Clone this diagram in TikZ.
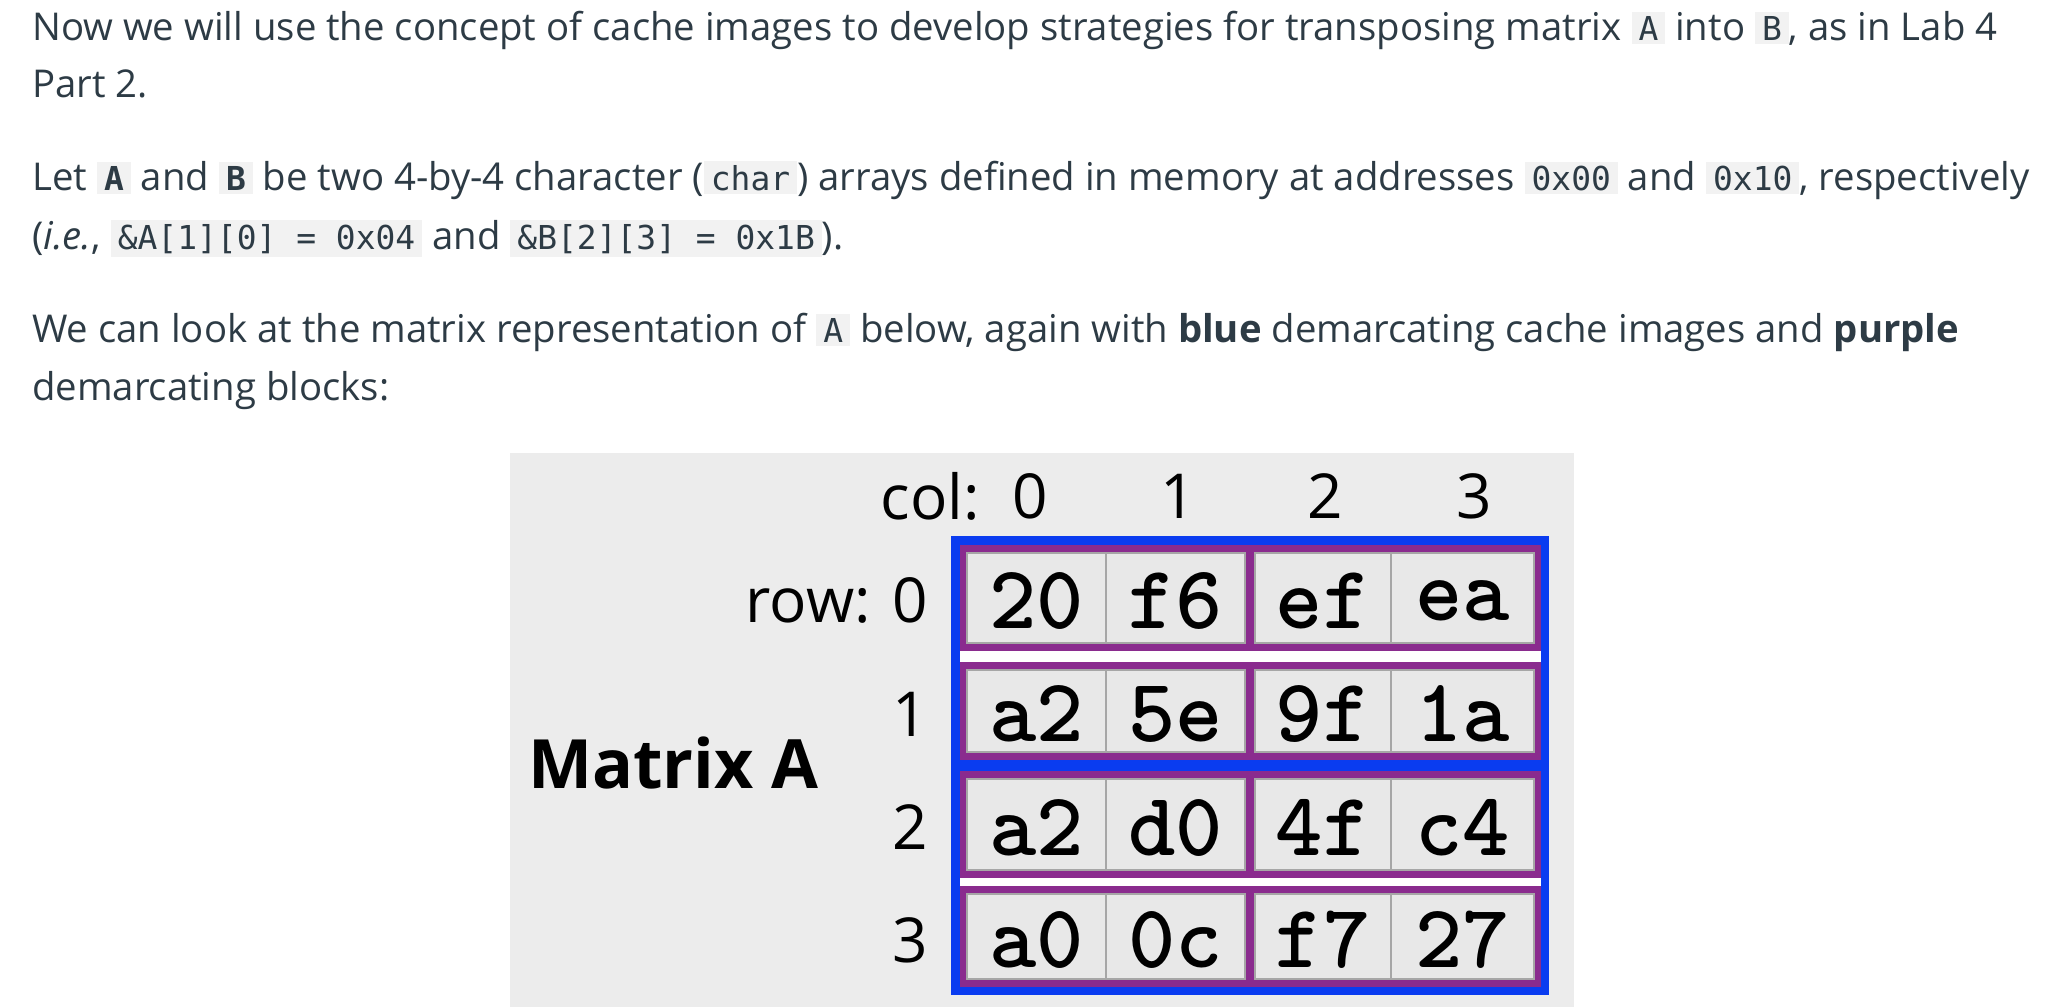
\documentclass[tikz,border=0pt]{standalone}
\usepackage{fontspec}
\setmainfont{Open Sans}
\newfontfamily\codefont{DejaVu Sans Mono}[Scale=0.86]
\definecolor{codebg}{HTML}{F2F2F2}
\definecolor{panel}{HTML}{ECECEC}
\definecolor{cblue}{HTML}{0A3CF0}
\definecolor{cpurple}{HTML}{8A2B8E}
\definecolor{cellbg}{HTML}{E8E8E8}
\definecolor{txt}{HTML}{2D3B45}
\newcommand\cd[1]{{\setlength\fboxsep{4pt}\colorbox{codebg}{\hspace{3pt}\codefont #1\hspace{3pt}}}}
\begin{document}
\begin{tikzpicture}[x=1pt,y=-1pt,
  line/.style={anchor=base west,inner sep=0pt,font=\fontsize{38.3}{44}\selectfont,text=txt},
  lbl/.style={inner sep=0pt,font=\fontsize{62}{70}\selectfont},
  cellbox/.style={fill=cellbg,draw=gray!70,line width=1.5pt},
  celltxt/.style={inner sep=0pt,font=\ttfamily\bfseries\fontsize{90}{92}\selectfont}]
\useasboundingbox (0,0) rectangle (2070,1007);
\fill[white] (0,0) rectangle (2070,1007);
\node[line] (l1) at (32,40) {Now we will use the concept of cache images to develop strategies for transposing matrix \cd{A} into \cd{B}, as in Lab 4};
\node[line] (l2) at (32,97) {Part 2.};
\node[line] (l3) at (32,190) {Let \cd{\bfseries A} and \cd{\bfseries B} be two 4-by-4 character (\cd{char}) arrays defined in memory at addresses \cd{0x00} and \cd{0x10}, respectively};
\node[line] (l4) at (32,249) {(\textit{i.e.}, \cd{\&A[1][0] = 0x04} and \cd{\&B[2][3] = 0x1B}).};
\node[line] (l5) at (32,342) {We can look at the matrix representation of \cd{A} below, again with \textbf{blue} demarcating cache images and \textbf{purple}};
\node[line] (l6) at (32,400) {demarcating blocks:};
\fill[panel] (510,453) rectangle (1574,1007);
\fill[cblue] (951,536) rectangle (1549,995);
\fill[white] (960,545) rectangle (1541,758);
\fill[white] (960,771) rectangle (1541,987);
\def\tops{{545,662,771,886}}
\def\bots{{651,760,878,987}}
\foreach \r/\a/\b/\c/\d in {0/20/f6/ef/ea,1/a2/5e/9f/1a,2/a2/d0/4f/c4,3/a0/0c/f7/27}{
  \pgfmathsetmacro\t{\tops[\r]}
  \pgfmathsetmacro\bt{\bots[\r]}
  \pgfmathsetmacro\mid{(\t+\bt)/2}
  \fill[cpurple] (960,\t) rectangle (1541,\bt);
  \foreach \k/\xa/\xb/\v in {0/967/1106/\a,1/1106/1245/\b,2/1255/1391/\c,3/1391/1534/\d}{
    \draw[cellbox] (\xa,\t+8) rectangle (\xb,\bt-8);
    \node[celltxt] (c\r\k) at ({(\xa+\xb)/2},\mid+3) {\v};
  }
}
\node[lbl,anchor=east] (colh) at (980,496) {col:};
\node[lbl] (col0) at (1030,496) {0};
\node[lbl] (col1) at (1178,496) {1};
\node[lbl] (col2) at (1325,496) {2};
\node[lbl] (col3) at (1474,496) {3};
\node[lbl,anchor=east] (row0) at (928,600) {row: 0};
\node[lbl,anchor=east] (row1) at (928,714) {1};
\node[lbl,anchor=east] (row2) at (928,827) {2};
\node[lbl,anchor=east] (row3) at (928,940) {3};
\node[inner sep=0pt,anchor=west,font=\bfseries\fontsize{68}{80}\selectfont] (mat) at (528,763) {Matrix A};
\end{tikzpicture}
\end{document}
